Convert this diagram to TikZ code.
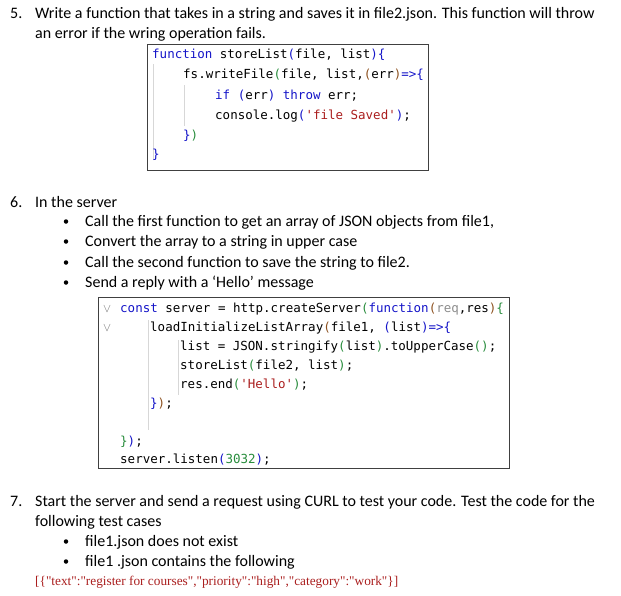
\documentclass[tikz,border=0pt]{standalone}
\usepackage{fontspec}
\setmainfont{Carlito}
\newfontfamily\cf{DejaVu Sans Mono}[Ligatures=ResetAll]
\newfontfamily\tf{Liberation Serif}
\definecolor{kw}{RGB}{20,20,200}
\definecolor{st}{RGB}{170,30,30}
\definecolor{pb}{RGB}{140,80,30}
\definecolor{pg}{RGB}{40,140,60}
\definecolor{gd}{RGB}{215,215,215}
\newcommand\CK[1]{\textcolor{kw}{#1}}
\newcommand\CS[1]{\textcolor{st}{#1}}
\newcommand\CB[1]{\textcolor{pb}{#1}}
\newcommand\CG[1]{\textcolor{pg}{#1}}
\newcommand\qq{\symbol{39}}
\begin{document}
\begin{tikzpicture}[x=1pt,y=-1pt,
  txt/.style={anchor=base west,inner sep=0pt,font=\fontsize{16}{19}\selectfont},
  code/.style={anchor=base west,inner sep=0pt,font=\cf\fontsize{12.5}{15}\selectfont},
  bul/.style={circle,fill=black,inner sep=0pt,minimum size=4.5pt},
  guide/.style={gd,line width=0.8pt},
  box/.style={draw=black!75,line width=0.8pt}]
\useasboundingbox (0,0) rectangle (621,595);
\node[txt] (n1) at (10,18) {5.};
\node[txt] (t1) at (35,18) {Write a function that takes in a string and saves it in file2.json. This function will throw};
\node[txt] (t2) at (35,38) {an error if the wring operation fails.};
\draw[box] (147,44) rectangle (428,170);
\draw[guide] (153,64) -- (153,160);
\draw[guide] (184,85) -- (184,126);
\node[code] (c1) at (152,58) {\CK{function} storeList\CK{(}file, list\CK{)\{}};
\node[code] (c2) at (183,78) {fs.writeFile\CG{(}file, list,\CB{(}err\CB{)}\CK{=>\{}};
\node[code] (c3) at (215,99) {\CK{if} \CK{(}err\CK{)} \CK{throw} err;};
\node[code] (c4) at (215,119) {console.log\CK{(}\CS{\qq file Saved\qq}\CK{)};};
\node[code] (c5) at (183,139) {\CK{\}}\CG{)}};
\node[code] (c6) at (152,158) {\CK{\}}};

\node[txt] (n3) at (10,207) {6.};
\node[txt] (t3) at (35,207) {In the server};
\foreach \y/\s [count=\i] in {226/{Call the first function to get an array of JSON objects from file1,},
  246/{Convert the array to a string in upper case},
  267/{Call the second function to save the string to file2.},
  287/{Send a reply with a `Hello' message}}{
  \node[bul] (b\i) at (66,\y-4.5) {};
  \node[txt] (s\i) at (85,\y) {\s};
}
\draw[box] (98,297) rectangle (509,468);
\draw[guide] (148,320) -- (148,430);
\draw[guide] (178,340) -- (178,395);
\node[code,text=black!55] (v1) at (103,312) {$\vee$};
\node[code,text=black!55] (v2) at (103,331) {$\vee$};
\node[code] (d1) at (120,312) {\CK{const} server = http.createServer\CG{(}\CK{function}\CB{(}\textcolor{black!45}{req},res\CB{)}\CG{\{}};
\node[code] (d2) at (150,331) {loadInitializeListArray\CB{(}file1, \CK{(}list\CK{)}\CK{=>\{}};
\node[code] (d3) at (180,350) {list = JSON.stringify\CG{(}list\CG{)}.toUpperCase\CG{()};};
\node[code] (d4) at (180,369) {storeList\CG{(}file2, list\CG{)};};
\node[code] (d5) at (180,388) {res.end\CG{(}\CS{\qq Hello\qq}\CG{)};};
\node[code] (d6) at (150,407) {\CK{\}}\CB{)};};
\node[code] (d7) at (120,445) {\CG{\}}\CK{)};};
\node[code] (d8) at (120,463) {server.listen\CK{(}\textcolor{pg}{3032}\CK{)};};

\node[txt] (n4) at (10,506) {7.};
\node[txt] (t4) at (35,506) {Start the server and send a request using CURL to test your code. Test the code for the};
\node[txt] (t5) at (35,526) {following test cases};
\node[bul] (b5) at (66,541.5) {};
\node[txt] (u1) at (85,546) {file1.json does not exist};
\node[bul] (b6) at (66,561.5) {};
\node[txt] (u2) at (85,566) {file1 .json contains the following};
\node[anchor=base west,inner sep=0pt,font=\tf\fontsize{13.3}{15}\selectfont,text=st] (r) at (35,585) {[\{"text":"register for courses","priority":"high","category":"work"\}]};
\end{tikzpicture}
\end{document}
